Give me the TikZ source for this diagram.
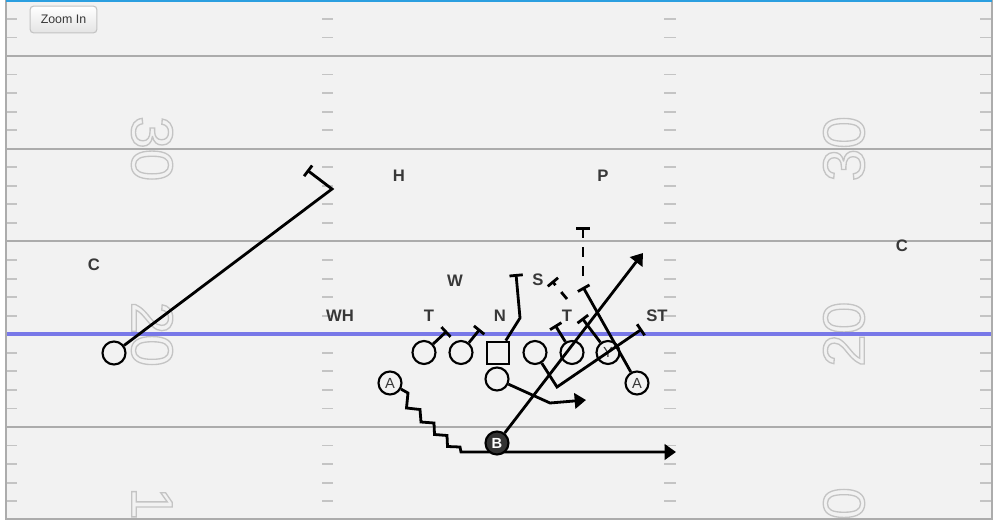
\documentclass[tikz,border=0pt]{standalone}
\usepackage{fontspec}
\setmainfont{Liberation Sans}
\usetikzlibrary{arrows.meta}
\definecolor{bgc}{HTML}{F2F2F2}
\definecolor{linec}{HTML}{ACACAC}
\definecolor{hashc}{HTML}{C4C4C4}
\definecolor{losc}{HTML}{7878E8}
\definecolor{topc}{HTML}{2B9FE0}
\definecolor{numc}{HTML}{C4C4C4}
\definecolor{txtc}{HTML}{383838}
\definecolor{qbc}{HTML}{333333}
\definecolor{btnb}{HTML}{E4E4E4}
\definecolor{btnd}{HTML}{C2C2C2}
\newcommand{\outl}[1]{\special{pdf:literal direct 1 Tr 1 w}#1\special{pdf:literal direct 0 Tr}}
\begin{document}
\begin{tikzpicture}[x=0.75pt,y=-0.75pt,
  player/.style={circle,draw=black,line width=1.6pt,fill=bgc,minimum size=17.25pt,inner sep=0pt,
    text=txtc,font=\fontsize{11}{11}\selectfont},
  oline/.style={rectangle,draw=black,line width=1.6pt,fill=bgc,minimum size=17pt,inner sep=0pt},
  qbnode/.style={circle,draw=black,line width=1.6pt,fill=qbc,minimum size=17.25pt,inner sep=0pt,
    text=white,font=\bfseries\fontsize{11}{11}\selectfont},
  route/.style={draw=black,line width=2.1pt},
  blk/.style={-{Bar[width=10pt]}},
  arw/.style={-{Triangle[length=8.5pt,width=11.5pt]}},
  lbl/.style={inner sep=0pt,text=txtc,font=\bfseries\fontsize{12.5}{12.5}\selectfont},
  numstyle/.style={inner sep=0pt,text=numc,font=\fontsize{44}{44}\selectfont},
  yardline/.style={draw=linec,line width=1.5pt},
  hashmark/.style={draw=hashc,line width=1.4pt}
]
\useasboundingbox (0,0) rectangle (1000,524);
\fill[white] (0,0) rectangle (1000,524);
\fill[bgc] (6,1) rectangle (992,519);
% yard numbers
\begin{scope}
\clip (6,1) rectangle (992,519);
\node[numstyle,rotate=-90] (n30l) at (152,148.75) {\outl{30}};
\node[numstyle,rotate=-90] (n20l) at (152,334.25) {\outl{20}};
\node[numstyle,rotate=-90] (n10l) at (152,519.75) {\outl{10}};
\node[numstyle,rotate=90] (n30r) at (844,148.75) {\outl{30}};
\node[numstyle,rotate=90] (n20r) at (844,334.25) {\outl{20}};
\node[numstyle,rotate=90] (n10r) at (844,519.75) {\outl{10}};
\end{scope}
% yard lines
\foreach \yy in {56,148.75,241.5,334.25,427}{
  \draw[yardline] (6,\yy) -- (992,\yy);
}
% hash marks
\foreach \k in {-3,...,24}{
  \pgfmathtruncatemacro\mm{mod(\k+5,5)}
  \pgfmathsetmacro\yy{56+\k*18.55}
  \ifnum\mm=0\relax\else
    \draw[hashmark] (6,\yy) -- (17,\yy) (322,\yy) -- (333,\yy) (664,\yy) -- (676,\yy) (980,\yy) -- (992,\yy);
  \fi
}
% line of scrimmage
\draw[draw=losc,line width=2.3pt] (6,334) -- (992,334);
% border
\draw[draw=linec,line width=1.5pt] (6,1) rectangle (992,519);
\draw[draw=topc,line width=1.5pt] (6,1) -- (992,1);
% zoom button
\node[draw=btnd,line width=0.8pt,rounded corners=2.5pt,top color=white,bottom color=btnb,
  minimum width=50pt,minimum height=20pt,inner sep=0pt,text=txtc,font=\fontsize{9.3}{9.3}\selectfont]
  (zoombtn) at (63.5,19.5) {Zoom In};
% defender labels
\node[lbl] (lH) at (399,176) {H};
\node[lbl] (lP) at (603,176) {P};
\node[lbl] (lCl) at (94,265) {C};
\node[lbl] (lCr) at (902,246) {C};
\node[lbl] (lW) at (455,281) {W};
\node[lbl] (lS) at (538,280) {S};
\node[lbl] (lWH) at (340,316) {WH};
\node[lbl] (lTl) at (429,316) {T};
\node[lbl] (lN) at (500,316) {N};
\node[lbl] (lTr) at (567,316) {T};
\node[lbl] (lST) at (657,316) {ST};
% offensive players
\node[player] (wrL) at (114,353) {};
\node[player] (lt) at (424,352.5) {};
\node[player] (lg) at (461,352.5) {};
\node[oline] (ctr) at (498,353) {};
\node[player] (rg) at (535,352.5) {};
\node[player] (rt) at (572,352.5) {};
\node[player] (te) at (608,352.5) {Y};
\node[player] (rb) at (497,379) {};
\node[player] (aL) at (390,383) {A};
\node[player] (aR) at (637,383) {A};
% route points
\coordinate (w1) at (332,189); \coordinate (w2) at (307,170);
\coordinate (lt1) at (447,331);
\coordinate (lg1) at (480,329);
\coordinate (c1) at (520,318); \coordinate (c2) at (516,274);
\coordinate (rg1) at (557,387); \coordinate (rg2) at (642,329);
\coordinate (rt1) at (555,325);
\coordinate (te1) at (582,318);
\coordinate (ar1) at (583,287);
\coordinate (d1) at (583,276); \coordinate (d2) at (583,227);
\coordinate (s1) at (567,299); \coordinate (s2) at (552,281);
\coordinate (rb1) at (550,403); \coordinate (rb2) at (586,400);
\coordinate (qb1) at (643,253);
\coordinate (z1) at (408,393); \coordinate (z2) at (406.5,408);
\coordinate (z3) at (420,409.5); \coordinate (z4) at (421,422);
\coordinate (z5) at (434,423); \coordinate (z6) at (434.5,434.5);
\coordinate (z7) at (447,435.5); \coordinate (z8) at (447.5,446.5);
\coordinate (z9) at (460,447); \coordinate (z10) at (461,452);
\coordinate (zend) at (676,452);
% routes
\draw[route,blk] (wrL) -- (w1) -- (w2);
\draw[route,blk] (lt) -- (lt1);
\draw[route,blk] (lg) -- (lg1);
\draw[route,blk] (ctr) -- (c1) -- (c2);
\draw[route,blk] (rg) -- (rg1) -- (rg2);
\draw[route,blk] (rt) -- (rt1);
\draw[route,blk] (te) -- (te1);
\draw[route,blk] (aR) -- (ar1);
\draw[route,blk,dash pattern=on 7.5pt off 6.75pt] (d1) -- (d2);
\draw[route,blk,dash pattern=on 6.75pt off 6.75pt] (s1) -- (s2);
\draw[route,arw] (rb) -- (rb1) -- (rb2);
\draw[route,arw] (aL) -- (z1) -- (z2) -- (z3) -- (z4) -- (z5) -- (z6) -- (z7) -- (z8) -- (z9) -- (z10) -- (zend);
\node[qbnode] (qb) at (497,443) {B};
\draw[route,arw] (qb) -- (qb1);
\end{tikzpicture}
\end{document}
